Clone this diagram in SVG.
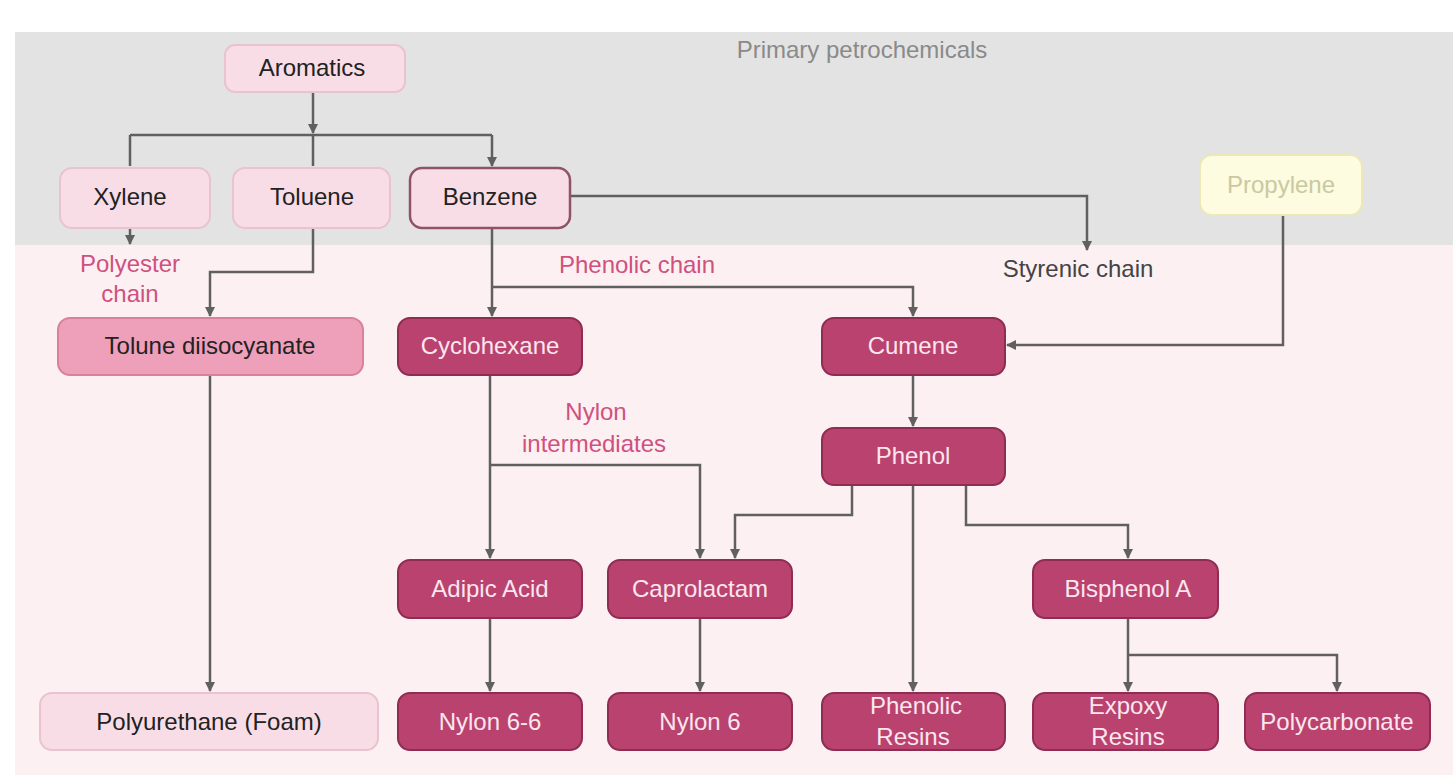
<svg xmlns="http://www.w3.org/2000/svg" width="1453" height="781" viewBox="0 0 1453 781">
<defs>
<style>
text{font-family:"Liberation Sans",Arial,sans-serif;font-size:24px;text-anchor:middle}
.lt rect{fill:#f9dde6;stroke:#e9c3cf;stroke-width:2}
.md rect{fill:#ee9fba;stroke:#d9809d;stroke-width:2}
.dk rect{fill:#b9426f;stroke:#8f2c52;stroke-width:2}
.lt text,.md text{fill:#222}
.dk text{fill:#fbe6ee}
.c path{fill:none;stroke:#606060;stroke-width:2.5}
.lab{fill:#d0507e}
</style>
<marker id="a" viewBox="0 0 10 10" refX="9" refY="5" markerWidth="4" markerHeight="4" orient="auto"><path d="M0,0L10,5L0,10z" fill="#606060"/></marker>
</defs>
<rect width="1453" height="781" fill="#fff"/>
<rect x="15" y="245" width="1438" height="530" fill="#fcf0f3"/>
<rect x="15" y="32" width="1438" height="213" fill="#e3e3e3"/>
<text x="862" y="58" fill="#8a8a8a">Primary petrochemicals</text>
<text class="lab" x="130" y="272" font-size="22">Polyester</text>
<text class="lab" x="130" y="302" font-size="22">chain</text>
<text class="lab" x="637" y="273">Phenolic chain</text>
<text x="1078" y="277" fill="#444" font-size="22">Styrenic chain</text>
<text class="lab" x="596" y="420">Nylon</text>
<text class="lab" x="594" y="452">intermediates</text>
<g class="c">
<path d="M313,92V133" marker-end="url(#a)"/>
<path d="M130,135H492M130,135V166M313,135V166M492,135V166" marker-end="url(#a)"/>
<path d="M130,228V244" marker-end="url(#a)"/>
<path d="M313,228V272H210V316" marker-end="url(#a)"/>
<path d="M492,228V316" marker-end="url(#a)"/>
<path d="M492,287H913V316" marker-end="url(#a)"/>
<path d="M570,196H1087V250" marker-end="url(#a)"/>
<path d="M1283,215V345H1007" marker-end="url(#a)"/>
<path d="M210,375V691" marker-end="url(#a)"/>
<path d="M490,375V558" marker-end="url(#a)"/>
<path d="M490,465H700V558" marker-end="url(#a)"/>
<path d="M913,375V426" marker-end="url(#a)"/>
<path d="M852,485V515H735V558" marker-end="url(#a)"/>
<path d="M913,485V691" marker-end="url(#a)"/>
<path d="M966,485V525H1128V558" marker-end="url(#a)"/>
<path d="M490,618V691" marker-end="url(#a)"/>
<path d="M700,618V691" marker-end="url(#a)"/>
<path d="M1128,618V691" marker-end="url(#a)"/>
<path d="M1128,655H1337V691" marker-end="url(#a)"/>
</g>
<g id="aromatics" class="lt"><rect x="225" y="45" width="180" height="47" rx="10"/><text x="312" y="76">Aromatics</text></g>
<g id="xylene" class="lt"><rect x="60" y="168" width="150" height="60" rx="12"/><text x="130" y="205">Xylene</text></g>
<g id="toluene" class="lt"><rect x="233" y="168" width="157" height="60" rx="12"/><text x="312" y="205">Toluene</text></g>
<g id="benzene" class="lt"><rect x="410" y="168" width="160" height="60" rx="12" style="stroke:#8f5368;stroke-width:2.5"/><text x="490" y="205">Benzene</text></g>
<g id="propylene"><rect x="1200" y="155" width="162" height="60" rx="12" fill="#fdfbe0" stroke="#ece8b8" stroke-width="2"/><text x="1281" y="193" fill="#c9c9a0">Propylene</text></g>
<g id="tdi" class="md"><rect x="58" y="318" width="305" height="57" rx="12"/><text x="210" y="354">Tolune diisocyanate</text></g>
<g id="cyclohexane" class="dk"><rect x="398" y="318" width="184" height="57" rx="12"/><text x="490" y="354">Cyclohexane</text></g>
<g id="cumene" class="dk"><rect x="822" y="318" width="183" height="57" rx="12"/><text x="913" y="354">Cumene</text></g>
<g id="phenol" class="dk"><rect x="822" y="428" width="183" height="57" rx="12"/><text x="913" y="464">Phenol</text></g>
<g id="adipic" class="dk"><rect x="398" y="560" width="184" height="58" rx="12"/><text x="490" y="597">Adipic Acid</text></g>
<g id="caprolactam" class="dk"><rect x="608" y="560" width="184" height="58" rx="12"/><text x="700" y="597">Caprolactam</text></g>
<g id="bisphenol" class="dk"><rect x="1033" y="560" width="185" height="58" rx="12"/><text x="1128" y="597">Bisphenol A</text></g>
<g id="polyurethane" class="lt"><rect x="40" y="693" width="338" height="57" rx="12"/><text x="209" y="730">Polyurethane (Foam)</text></g>
<g id="nylon66" class="dk"><rect x="398" y="693" width="184" height="57" rx="12"/><text x="490" y="730">Nylon 6-6</text></g>
<g id="nylon6" class="dk"><rect x="608" y="693" width="184" height="57" rx="12"/><text x="700" y="730">Nylon 6</text></g>
<g id="phenolicresins" class="dk"><rect x="822" y="693" width="183" height="57" rx="12"/><text x="916" y="714">Phenolic</text><text x="913" y="745">Resins</text></g>
<g id="epoxy" class="dk"><rect x="1033" y="693" width="185" height="57" rx="12"/><text x="1128" y="714">Expoxy</text><text x="1128" y="745">Resins</text></g>
<g id="polycarbonate" class="dk"><rect x="1245" y="693" width="185" height="57" rx="12"/><text x="1337" y="730">Polycarbonate</text></g>
</svg>
